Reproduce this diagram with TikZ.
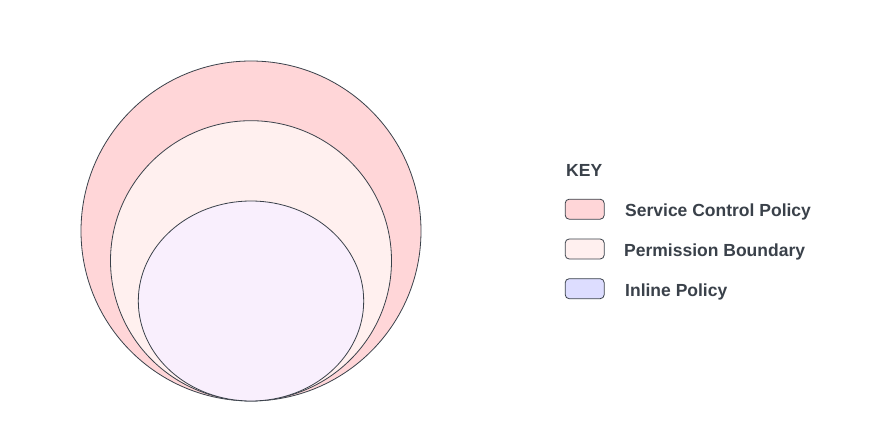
\documentclass[tikz,border=0pt]{standalone}
\usepackage{fontspec}
\setmainfont{Liberation Sans}
\definecolor{strokec}{HTML}{3A414A}
\definecolor{textc}{HTML}{3A414A}
\definecolor{scp}{HTML}{FFD6D8}
\definecolor{pb}{HTML}{FFF0EF}
\definecolor{inl}{HTML}{F9EFFD}
\definecolor{inlkey}{HTML}{DDDDFF}
\begin{document}
\begin{tikzpicture}[x=1pt,y=-1pt,
  ring/.style={draw=strokec,line width=0.8pt},
  keybox/.style={draw=strokec,line width=0.8pt,rounded corners=4pt,minimum width=39pt,minimum height=20pt,inner sep=0pt},
  keytext/.style={anchor=base west,inner sep=0pt,text=textc,font=\fontsize{17.5}{21}\selectfont\bfseries}]
\useasboundingbox[fill=white] (0,0) rectangle (872,443);
\draw[ring,fill=scp] (251,231) ellipse [x radius=170pt, y radius=170pt];
\draw[ring,fill=pb] (251,260.7) ellipse [x radius=140.5pt, y radius=140pt];
\draw[ring,fill=inl] (251,301) ellipse [x radius=112.7pt, y radius=100pt];
\node[keytext] (key) at (566,176.3) {KEY};
\node[keytext] (t1) at (625,217) {Service Control Policy};
\node[keytext] (t2) at (624,256.8) {Permission Boundary};
\node[keytext] (t3) at (625,296.5) {Inline Policy};
\node[keybox,fill=scp] (b1) at (584.7,209.2) {};
\node[keybox,fill=pb] (b2) at (584.7,249) {};
\node[keybox,fill=inlkey] (b3) at (584.7,288.7) {};
\end{tikzpicture}
\end{document}
